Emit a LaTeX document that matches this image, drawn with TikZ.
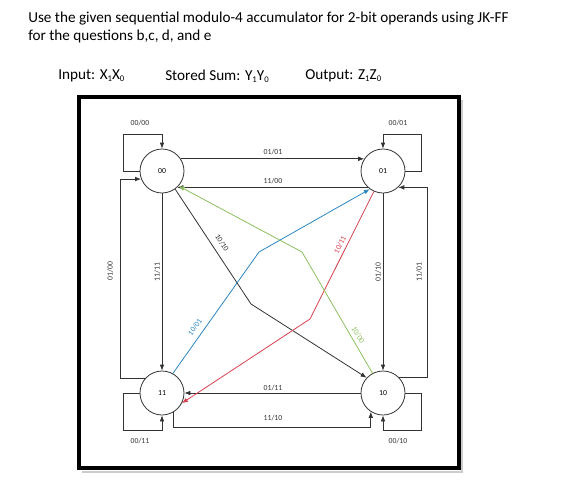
\documentclass[tikz,border=0pt]{standalone}
\usepackage{fontspec}
\setmainfont{Carlito}
\usetikzlibrary{arrows.meta,positioning,calc}
\usepackage{xcolor}
\definecolor{AccBlue}{HTML}{2B86C0}
\definecolor{AccRed}{HTML}{D6404E}
\definecolor{AccGreen}{HTML}{8CBF5E}
\definecolor{AccLine}{HTML}{333333}

\newcommand{\sub}[1]{\raisebox{-0.25ex}{\fontsize{6.5}{7}\selectfont #1}}

\tikzset{
  state/.style={circle, draw=AccLine, line width=0.6pt, minimum size=33pt, inner sep=0pt, font=\fontsize{5.8}{6}\selectfont},
  arr/.style={draw=AccLine, line width=0.6pt, -{Latex[length=4.5pt,width=3.5pt]}},
  lbl/.style={font=\fontsize{5.8}{6}\selectfont, text=AccLine, inner sep=0pt},
  head/.style={font=\fontsize{11.4}{13.5}\selectfont, anchor=west, inner sep=0pt}
}

\begin{document}
\begin{tikzpicture}[x=0.75pt, y=-0.75pt]
  \useasboundingbox (0,0) rectangle (568,486);

  % title and legend
  \node[head, anchor=north west, align=left] (title) at (28,12)
    {Use the given sequential modulo-4 accumulator for 2-bit operands using JK-FF\\for the questions b,c, d, and e};
  \node[head] (inp) at (58,76) {Input: X\sub{1}X\sub{0}};
  \node[head] (sto) at (165,76) {Stored Sum: Y\sub{1}Y\sub{0}};
  \node[head] (out) at (305,76) {Output: Z\sub{1}Z\sub{0}};

  % frame
  \draw[black!20, line width=1.5pt] (462,100) -- (462,471.5) -- (82,471.5);
  \draw[line width=3pt] (79,96.5) rectangle (458.5,468);

  % states
  \node[state] (s00) at (162,171) {00};
  \node[state] (s01) at (383,171) {01};
  \node[state] (s11) at (162,393) {11};
  \node[state] (s10) at (383,393) {10};

  % self loops
  \draw[arr] (s00.west) -- ++(-16,0) -- ++(0,-37) -| (s00.north);
  \draw[arr] (s01.east) -- ++(16,0) -- ++(0,-37) -| (s01.north);
  \draw[arr] (s11.west) -- ++(-16,0) -- ++(0,37) -| (s11.south);
  \draw[arr] (s10.east) -- ++(16,0) -- ++(0,37) -| (s10.south);
  \node[lbl] at (140,123) {00/00};
  \node[lbl] at (398,123) {00/01};
  \node[lbl] at (140,441) {00/11};
  \node[lbl] at (398,441) {00/10};

  % straight and orthogonal transitions
  \draw[arr] (s00.33) -- (s01.147);
  \draw[arr] (s01.-133) -- (s00.-47);
  \draw[arr] (s10.west) -- (s11.east);
  \draw[arr] (s11.-60) -- ++(0,15) -| (s10.-123);
  \draw[arr] (s00.south) -- (s11.north);
  \draw[arr] (s01.south) -- (s10.north);
  \draw[arr] (s11.140) -- ++(-24,0) |- (s00.201);
  \draw[arr] (s10.43) -- ++(28,0) |- (s01.-47);
  \node[lbl] at (273,152) {01/01};
  \node[lbl] at (273,181) {11/00};
  \node[lbl] at (273,388) {01/11};
  \node[lbl] at (273,418) {11/10};
  \node[lbl, rotate=90] at (110,271) {01/00};
  \node[lbl, rotate=90] at (157,272) {11/11};
  \node[lbl, rotate=90] at (378,272) {01/10};
  \node[lbl, rotate=90] at (419,272) {11/01};

  % diagonal transitions
  \coordinate (kBlack) at (251,304);
  \coordinate (kBlue)  at (259,252);
  \coordinate (kRed)   at (310,319);
  \coordinate (kGreen) at (302,252);
  \draw[arr] (s00.-54) -- (kBlack) -- (s10.137);
  \draw[arr, draw=AccBlue, -{Latex[length=4.5pt,width=3.5pt,fill=AccBlue]}] (s11.61) -- (kBlue) -- (s01.234);
  \draw[arr, draw=AccRed, -{Latex[length=4.5pt,width=3.5pt,fill=AccRed]}] (s01.246) -- (kRed) -- (s11.-27);
  \draw[arr, draw=AccGreen, -{Latex[length=4.5pt,width=3.5pt,fill=AccGreen]}] (s10.118) -- (kGreen) -- (s00.-42);
  \node[lbl, rotate=-57] at (222,243) {10/10};
  \node[lbl, rotate=54, text=AccBlue] at (195,327) {10/01};
  \node[lbl, rotate=63, text=AccRed] at (340,245) {10/11};
  \node[lbl, rotate=-60, text=AccGreen] at (358,335) {10/00};
\end{tikzpicture}
\end{document}
